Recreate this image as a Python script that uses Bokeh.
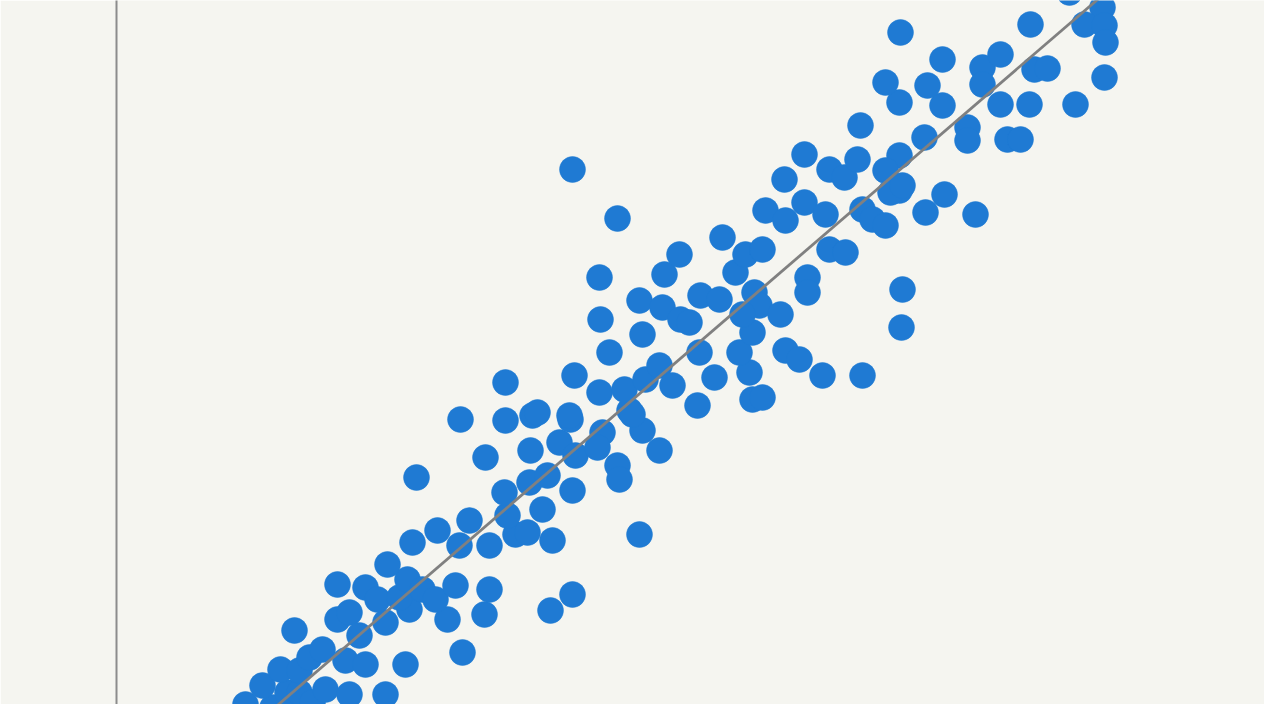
from bokeh.plotting import figure
from bokeh.models import Range1d, FixedTicker
from bokeh.embed import file_html
from bokeh.resources import INLINE

# Scatter values (x, y)
x_vals = [
    253, 280, 295, 307, 320, 333, 357, 393,
    270, 288, 307, 317, 330, 353, 373, 413, 470,
    302, 345, 357, 367, 393, 417, 455, 492,
    345, 373, 385, 407, 415, 430, 443, 463, 497,
    395, 420, 445, 467, 477, 580, 558,
    497, 523, 560, 535, 515, 550, 647,
    512, 537, 555, 580, 424,
    493, 538, 567, 583, 610, 605, 625, 627, 650, 667,
    468, 513, 540, 578, 637,
    513, 582, 607, 632, 653, 667, 680, 705, 722, 757, 760, 770, 830, 870,
    545, 577, 640, 617, 650, 707, 747, 760, 793, 807,
    608, 647, 670, 688, 697, 708, 727, 762, 767, 750, 788, 743, 672, 607,
    687, 753, 770, 730, 815, 815, 837, 853, 910, 909, 625, 580,
    773, 793, 812, 833, 870, 880, 893, 933, 952, 983,
    792, 812, 837, 852, 865, 868, 907, 893, 907, 898, 910,
    932, 975, 975, 1015, 1028,
    907, 950, 1008, 1037, 1083, 893, 935, 990, 990, 1042, 1055,
    908, 950, 1008, 1038, 1077, 1110, 1092, 1112, 1113, 1112,
]
y_vals = [
    8, 5, 20, 20, 10, 23, 18, 18,
    27, 43, 42, 55, 63, 52, 48, 48, 60,
    82, 93, 100, 77, 90, 103, 93, 98,
    128, 125, 113, 115, 133, 123, 113, 127, 123,
    148, 170, 182, 167, 192, 118, 102,
    167, 178, 172, 180, 197, 203, 178,
    220, 230, 237, 222, 235,
    255, 262, 270, 257, 280, 265, 247, 233, 282, 262,
    293, 292, 297, 293, 302,
    330, 337, 320, 323, 333, 347, 327, 307, 335, 340, 313, 315, 337, 337,
    300, 297, 298, 360, 378, 360, 360, 380, 362, 353,
    393, 412, 405, 393, 390, 417, 413, 420, 407, 398, 398, 440, 438, 435,
    458, 458, 463, 475, 435, 420, 463, 460, 423, 385, 494, 543,
    502, 492, 510, 498, 503, 493, 487, 500, 518, 498,
    533, 558, 543, 535, 553, 587, 557, 542, 522, 520, 527,
    575, 585, 572, 573, 573,
    610, 607, 608, 608, 608, 630, 627, 645, 628, 643, 644,
    680, 653, 658, 688, 720, 705, 688, 687, 670, 635,
]

# Fitted trend line
fit_slope = 0.8606
fit_intercept = -238.1
fit_x = [150, 1250]

fit_y = [fit_slope * v + fit_intercept for v in fit_x]

BG = "#f5f5f0"

p = figure(
    width=1264, height=704,
    output_backend="svg", toolbar_location=None,
    x_range=Range1d(124, 1272), y_range=Range1d(8, 712),
    min_border_left=116, min_border_right=0, min_border_top=0, min_border_bottom=0,
    background_fill_color=BG, border_fill_color=BG,
)
p.outline_line_color = None
p.grid.visible = False
p.xaxis.visible = False

ax = p.yaxis[0]
ax.ticker = FixedTicker(ticks=[])
ax.axis_line_color = "#8c8c8c"
ax.axis_line_width = 2
ax.major_tick_line_color = None
ax.minor_tick_line_color = None

p.scatter(x_vals, y_vals, size=26, fill_color="#1f7ad3", line_color="#1f7ad3",
          line_width=0.5)
p.line(fit_x, fit_y, line_color="#808080", line_width=2.8)

html = file_html(p, INLINE)
html = html.replace("<body>", '<body style="background-color:%s;">' % BG, 1)
open("out.html", "w").write(html)
